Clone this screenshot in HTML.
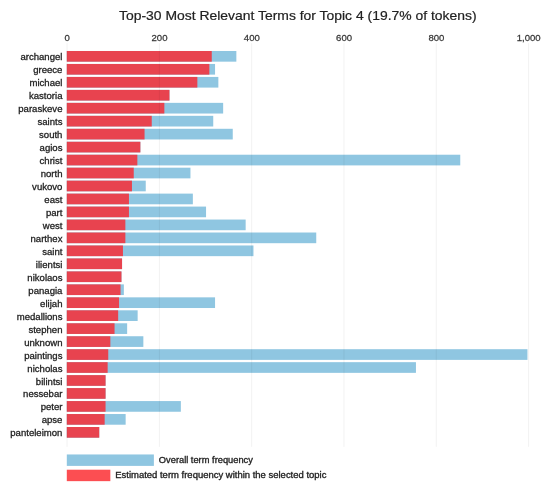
<!DOCTYPE html>
<html><head><meta charset="utf-8"><style>
html,body{margin:0;padding:0;background:#fff;}
svg{display:block;}
text{font-family:"Liberation Sans",Arial,sans-serif;fill:#222;stroke:#222;}
.term{font-size:11px;text-anchor:end;stroke-width:0.35px;}
.tk{font-size:11.0px;text-anchor:middle;stroke-width:0.3px;fill:#383838;stroke:#383838;}
.title{font-size:16px;text-anchor:middle;stroke-width:0.25px;}
.leg{font-size:11px;stroke-width:0.4px;}
.g{stroke:rgba(0,0,0,0.06);stroke-width:1.148;}
</style></head><body>
<svg width="550" height="485" viewBox="0 0 550 485">
<g transform="translate(66.8,42.6) scale(0.8708,0.7627)">
<text transform="translate(0.45,-1.9) scale(1,1.18)" class="tk">0</text>
<text transform="translate(106.45,-1.9) scale(1,1.18)" class="tk">200</text>
<text transform="translate(212.45,-1.9) scale(1,1.18)" class="tk">400</text>
<text transform="translate(318.45,-1.9) scale(1,1.18)" class="tk">600</text>
<text transform="translate(424.45,-1.9) scale(1,1.18)" class="tk">800</text>
<text transform="translate(530.45,-1.9) scale(1,1.18)" class="tk">1,000</text>
<rect x="0" y="11" width="194.71" height="14" fill="#8fc6e1"/>
<rect x="0" y="11" width="166.46" height="14" fill="#e8434f"/>
<text x="-5" y="23.3" class="term">archangel</text>
<rect x="0" y="28" width="170.25" height="14" fill="#8fc6e1"/>
<rect x="0" y="28" width="163.70" height="14" fill="#e8434f"/>
<text x="-5" y="40.3" class="term">greece</text>
<rect x="0" y="45" width="174.04" height="14" fill="#8fc6e1"/>
<rect x="0" y="45" width="149.92" height="14" fill="#e8434f"/>
<text x="-5" y="57.3" class="term">michael</text>
<rect x="0" y="62" width="117.88" height="14" fill="#8fc6e1"/>
<rect x="0" y="62" width="117.88" height="14" fill="#e8434f"/>
<text x="-5" y="74.3" class="term">kastoria</text>
<rect x="0" y="79" width="179.55" height="14" fill="#8fc6e1"/>
<rect x="0" y="79" width="112.02" height="14" fill="#e8434f"/>
<text x="-5" y="91.3" class="term">paraskeve</text>
<rect x="0" y="96" width="168.18" height="14" fill="#8fc6e1"/>
<rect x="0" y="96" width="97.55" height="14" fill="#e8434f"/>
<text x="-5" y="108.3" class="term">saints</text>
<rect x="0" y="113" width="190.57" height="14" fill="#8fc6e1"/>
<rect x="0" y="113" width="89.29" height="14" fill="#e8434f"/>
<text x="-5" y="125.3" class="term">south</text>
<rect x="0" y="130" width="84.46" height="14" fill="#8fc6e1"/>
<rect x="0" y="130" width="84.46" height="14" fill="#e8434f"/>
<text x="-5" y="142.3" class="term">agios</text>
<rect x="0" y="147" width="451.83" height="14" fill="#8fc6e1"/>
<rect x="0" y="147" width="81.02" height="14" fill="#e8434f"/>
<text x="-5" y="159.3" class="term">christ</text>
<rect x="0" y="164" width="142.00" height="14" fill="#8fc6e1"/>
<rect x="0" y="164" width="76.88" height="14" fill="#e8434f"/>
<text x="-5" y="176.3" class="term">north</text>
<rect x="0" y="181" width="90.66" height="14" fill="#8fc6e1"/>
<rect x="0" y="181" width="74.82" height="14" fill="#e8434f"/>
<text x="-5" y="193.3" class="term">vukovo</text>
<rect x="0" y="198" width="144.75" height="14" fill="#8fc6e1"/>
<rect x="0" y="198" width="71.37" height="14" fill="#e8434f"/>
<text x="-5" y="210.3" class="term">east</text>
<rect x="0" y="215" width="159.91" height="14" fill="#8fc6e1"/>
<rect x="0" y="215" width="71.37" height="14" fill="#e8434f"/>
<text x="-5" y="227.3" class="term">part</text>
<rect x="0" y="232" width="205.39" height="14" fill="#8fc6e1"/>
<rect x="0" y="232" width="67.24" height="14" fill="#e8434f"/>
<text x="-5" y="244.3" class="term">west</text>
<rect x="0" y="249" width="286.46" height="14" fill="#8fc6e1"/>
<rect x="0" y="249" width="67.24" height="14" fill="#e8434f"/>
<text x="-5" y="261.3" class="term">narthex</text>
<rect x="0" y="266" width="214.34" height="14" fill="#8fc6e1"/>
<rect x="0" y="266" width="64.48" height="14" fill="#e8434f"/>
<text x="-5" y="278.3" class="term">saint</text>
<rect x="0" y="283" width="63.45" height="14" fill="#8fc6e1"/>
<rect x="0" y="283" width="63.45" height="14" fill="#e8434f"/>
<text x="-5" y="295.3" class="term">ilientsi</text>
<rect x="0" y="300" width="62.76" height="14" fill="#8fc6e1"/>
<rect x="0" y="300" width="62.76" height="14" fill="#e8434f"/>
<text x="-5" y="312.3" class="term">nikolaos</text>
<rect x="0" y="317" width="65.51" height="14" fill="#8fc6e1"/>
<rect x="0" y="317" width="61.72" height="14" fill="#e8434f"/>
<text x="-5" y="329.3" class="term">panagia</text>
<rect x="0" y="334" width="170.25" height="14" fill="#8fc6e1"/>
<rect x="0" y="334" width="60.00" height="14" fill="#e8434f"/>
<text x="-5" y="346.3" class="term">elijah</text>
<rect x="0" y="351" width="81.36" height="14" fill="#8fc6e1"/>
<rect x="0" y="351" width="58.97" height="14" fill="#e8434f"/>
<text x="-5" y="363.3" class="term">medallions</text>
<rect x="0" y="368" width="69.30" height="14" fill="#8fc6e1"/>
<rect x="0" y="368" width="54.83" height="14" fill="#e8434f"/>
<text x="-5" y="380.3" class="term">stephen</text>
<rect x="0" y="385" width="87.91" height="14" fill="#8fc6e1"/>
<rect x="0" y="385" width="50.01" height="14" fill="#e8434f"/>
<text x="-5" y="397.3" class="term">unknown</text>
<rect x="0" y="402" width="529.00" height="14" fill="#8fc6e1"/>
<rect x="0" y="402" width="47.60" height="14" fill="#e8434f"/>
<text x="-5" y="414.3" class="term">paintings</text>
<rect x="0" y="419" width="400.95" height="14" fill="#8fc6e1"/>
<rect x="0" y="419" width="46.91" height="14" fill="#e8434f"/>
<text x="-5" y="431.3" class="term">nicholas</text>
<rect x="0" y="436" width="44.50" height="14" fill="#8fc6e1"/>
<rect x="0" y="436" width="44.50" height="14" fill="#e8434f"/>
<text x="-5" y="448.3" class="term">bilintsi</text>
<rect x="0" y="453" width="44.50" height="14" fill="#8fc6e1"/>
<rect x="0" y="453" width="44.50" height="14" fill="#e8434f"/>
<text x="-5" y="465.3" class="term">nessebar</text>
<rect x="0" y="470" width="130.97" height="14" fill="#8fc6e1"/>
<rect x="0" y="470" width="44.50" height="14" fill="#e8434f"/>
<text x="-5" y="482.3" class="term">peter</text>
<rect x="0" y="487" width="67.58" height="14" fill="#8fc6e1"/>
<rect x="0" y="487" width="43.47" height="14" fill="#e8434f"/>
<text x="-5" y="499.3" class="term">apse</text>
<rect x="0" y="504" width="37.26" height="14" fill="#8fc6e1"/>
<rect x="0" y="504" width="37.26" height="14" fill="#e8434f"/>
<text x="-5" y="516.3" class="term">panteleimon</text>
<line x1="0.30" y1="0.8" x2="0.30" y2="530" class="g"/>
<line x1="106.30" y1="0.8" x2="106.30" y2="530" class="g"/>
<line x1="212.30" y1="0.8" x2="212.30" y2="530" class="g"/>
<line x1="318.30" y1="0.8" x2="318.30" y2="530" class="g"/>
<line x1="424.30" y1="0.8" x2="424.30" y2="530" class="g"/>
<line x1="530.30" y1="0.8" x2="530.30" y2="530" class="g"/>
<text x="265.3" y="-30" class="title">Top-30 Most Relevant Terms for Topic 4 (19.7% of tokens)</text>
<rect x="0" y="540" width="100" height="15" fill="#8fc6e1"/>
<text x="105.7" y="551.5" class="leg" textLength="108.0" lengthAdjust="spacingAndGlyphs">Overall term frequency</text>
<rect x="0" y="560" width="50" height="15" fill="#fc4e52"/>
<text x="55.6" y="571.5" class="leg" textLength="242.6" lengthAdjust="spacingAndGlyphs">Estimated term frequency within the selected topic</text>
</g>
</svg>
</body></html>
